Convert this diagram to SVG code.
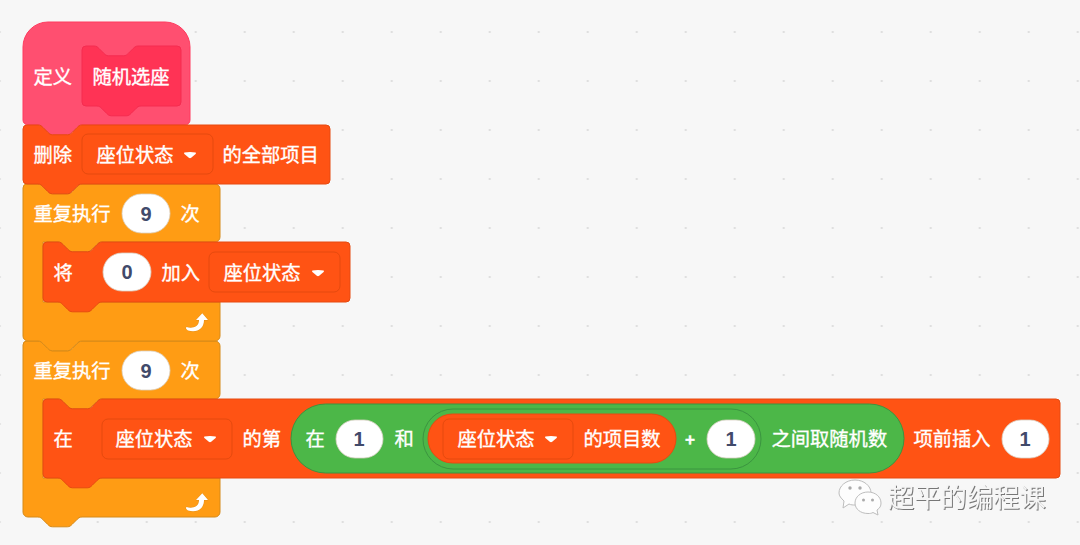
<svg xmlns="http://www.w3.org/2000/svg" width="1080" height="545" viewBox="0 0 1080 545">
<defs>
<style>
text{font-family:"Noto Sans CJK SC","Noto Sans",sans-serif;font-size:19.3px;font-weight:400;fill:#fff;stroke:#fff;stroke-width:.35}
.num{font-family:"Liberation Sans",Arial,sans-serif;font-size:20px;font-weight:700;fill:#414a6a;stroke:none;text-anchor:middle}
.hat{fill:#ff4f70;stroke:#ff3a5e;stroke-width:1}
.proc{fill:#ff3355;stroke:#f52c50;stroke-width:1}
.list{fill:#ff5314;stroke:#e64a10;stroke-width:1}
.ctl{fill:#ff9c14;stroke:#d68a18;stroke-width:1}
.op{fill:#4cb748;stroke:#3b9440;stroke-width:1}
.dd{fill:#ff5314;stroke:#e54a0f;stroke-width:1}
.inp{fill:#fff;stroke:#d9d0c4;stroke-width:.8}
.tri{fill:#fff}
.wm{font-size:26.3px;font-weight:400;fill:#f5f5f5;stroke:none;filter:drop-shadow(1px 1px .7px #777)}
.bub{fill:#fdfdfd;stroke:#bdbdbd;stroke-width:1}
.eye{fill:#aaa}
.loop{fill:#fff;stroke:#c9801a;stroke-width:.5;paint-order:stroke}
</style>
<pattern id="dots" width="49" height="49" patternUnits="userSpaceOnUse" x="-0.3" y="-17">
<rect width="49" height="49" fill="#f7f7f7"/>
<circle cx="0" cy="0" r="1.1" fill="#dadada"/><circle cx="49" cy="0" r="1.1" fill="#dadada"/><circle cx="0" cy="49" r="1.1" fill="#dadada"/><circle cx="49" cy="49" r="1.1" fill="#dadada"/>
</pattern>
<path id="tridown" d="M-5.6 -2.6 Q0 -3.6 5.6 -2.6 Q6.4 -2 5.6 -1 L1.2 2.8 Q0 3.6 -1.2 2.8 L-5.6 -1 Q-6.4 -2 -5.6 -2.6 Z"/>
<path id="looparrow" d="M-10.500 7 C-6 8.500 2 8 2 0 L-1 0 L5.300 -6.700 L11 0 L7 0 C7 9 0 13 -9 10.500 Q-12 8.500 -10.500 7 Z"/>
</defs>
<rect id="background" width="1080" height="545" fill="url(#dots)"/>
<g id="connectors"></g>

<g id="node-repeat-2">
<path class="ctl" d="M27 341 H38 c2.5 0 3.7 1.2 4.9 2.4 l4.9 4.9 c1.2 1.2 2.5 2.5 4.9 2.5 h14.7 c2.5 0 3.7 -1.2 4.9 -2.4 l4.9 -4.9 c1.2 -1.2 2.4 -2.5 4.9 -2.5 H215 a5 5 0 0 1 5 5 V394 a5 5 0 0 1 -5 5 H102 c-2.5 0 -3.7 1.2 -4.9 2.4 l-4.9 4.9 c-1.2 1.2 -2.5 2.5 -4.9 2.5 h-14.7 c-2.5 0 -3.7 -1.2 -4.9 -2.4 l-4.9 -4.9 c-1.2 -1.2 -2.4 -2.5 -4.9 -2.5 H43 V478 H220 V512 a5 5 0 0 1 -5 5 H82 c-2.5 0 -3.7 1.2 -4.9 2.4 l-4.9 4.9 c-1.2 1.2 -2.5 2.5 -4.9 2.5 h-14.7 c-2.5 0 -3.7 -1.2 -4.9 -2.4 l-4.9 -4.9 c-1.2 -1.2 -2.4 -2.5 -4.9 -2.5 H28 a5 5 0 0 1 -5 -5 V345 a4 4 0 0 1 4 -4 Z"/>
<text x="33.500" y="378">重复执行</text>
<rect class="inp" x="122" y="351" width="48" height="39" rx="19.5"/>
<text class="num" x="146" y="378">9</text>
<text x="180.500" y="378">次</text>
<use href="#looparrow" class="loop" x="197" y="500"/>
</g>

<g id="node-repeat-1">
<path class="ctl" d="M27 184 H38 c2.5 0 3.7 1.2 4.9 2.4 l4.9 4.9 c1.2 1.2 2.5 2.5 4.9 2.5 h14.7 c2.5 0 3.7 -1.2 4.9 -2.4 l4.9 -4.9 c1.2 -1.2 2.4 -2.5 4.9 -2.5 H215 a5 5 0 0 1 5 5 V237 a5 5 0 0 1 -5 5 H102 c-2.5 0 -3.7 1.2 -4.9 2.4 l-4.9 4.9 c-1.2 1.2 -2.5 2.5 -4.9 2.5 h-14.7 c-2.5 0 -3.7 -1.2 -4.9 -2.4 l-4.9 -4.9 c-1.2 -1.2 -2.4 -2.5 -4.9 -2.5 H43 V302 H220 V336 a5 5 0 0 1 -5 5 H82 c-2.5 0 -3.7 1.2 -4.9 2.4 l-4.9 4.9 c-1.2 1.2 -2.5 2.5 -4.9 2.5 h-14.7 c-2.5 0 -3.7 -1.2 -4.9 -2.4 l-4.9 -4.9 c-1.2 -1.2 -2.4 -2.5 -4.9 -2.5 H28 a5 5 0 0 1 -5 -5 V188 a4 4 0 0 1 4 -4 Z"/>
<text x="33.500" y="221">重复执行</text>
<rect class="inp" x="122" y="194" width="48" height="39" rx="19.5"/>
<text class="num" x="146" y="221">9</text>
<text x="180.500" y="221">次</text>
<use href="#looparrow" class="loop" x="197" y="320"/>
</g>

<g id="node-define">
<path class="hat" d="M23 47 a25 25 0 0 1 25 -25 H165 a25 25 0 0 1 25 25 V120 a5 5 0 0 1 -5 5 H82 c-2.5 0 -3.7 1.2 -4.9 2.4 l-4.9 4.9 c-1.2 1.2 -2.5 2.5 -4.9 2.5 h-14.7 c-2.5 0 -3.7 -1.2 -4.9 -2.4 l-4.9 -4.9 c-1.2 -1.2 -2.4 -2.5 -4.9 -2.5 H28 a5 5 0 0 1 -5 -5 Z"/>
<text x="33.500" y="84">定义</text>
<path class="proc" d="M86 46 H94 c2.5 0 3.7 1.2 4.9 2.4 l4.9 4.9 c1.2 1.2 2.5 2.5 4.9 2.5 h14.7 c2.5 0 3.7 -1.2 4.9 -2.4 l4.9 -4.9 c1.2 -1.2 2.4 -2.5 4.9 -2.5 H177 a4 4 0 0 1 4 4 V102 a4 4 0 0 1 -4 4 H141 c-2.5 0 -3.7 1.2 -4.9 2.4 l-4.9 4.9 c-1.2 1.2 -2.5 2.5 -4.9 2.5 h-14.7 c-2.5 0 -3.7 -1.2 -4.9 -2.4 l-4.9 -4.9 c-1.2 -1.2 -2.4 -2.5 -4.9 -2.5 H86 a4 4 0 0 1 -4 -4 V50 a4 4 0 0 1 4 -4 Z"/>
<text x="92.500" y="84">随机选座</text>
</g>

<g id="node-delete-all">
<path class="list" d="M27 125 H38 c2.5 0 3.7 1.2 4.9 2.4 l4.9 4.9 c1.2 1.2 2.5 2.5 4.9 2.5 h14.7 c2.5 0 3.7 -1.2 4.9 -2.4 l4.9 -4.900 c1.2 -1.2 2.4 -2.5 4.9 -2.5 H326 a4 4 0 0 1 4 4 V180 a4 4 0 0 1 -4 4 H82 c-2.5 0 -3.7 1.2 -4.9 2.4 l-4.9 4.9 c-1.2 1.2 -2.5 2.5 -4.9 2.5 h-14.7 c-2.5 0 -3.7 -1.2 -4.9 -2.4 l-4.9 -4.9 c-1.2 -1.2 -2.4 -2.5 -4.9 -2.5 H27 a4 4 0 0 1 -4 -4 V129 a4 4 0 0 1 4 -4 Z"/>
<text x="33.500" y="162">删除</text>
<rect class="dd" x="82" y="134" width="131" height="40" rx="6"/>
<text x="96.500" y="162">座位状态</text>
<use href="#tridown" class="tri" x="190" y="155"/>
<text x="222.500" y="162">的全部项目</text>
</g>

<g id="node-add-to-list">
<path class="list" d="M47 242 H58 c2.5 0 3.7 1.2 4.9 2.4 l4.9 4.9 c1.2 1.2 2.5 2.5 4.9 2.5 h14.7 c2.5 0 3.7 -1.2 4.9 -2.4 l4.9 -4.9 c1.2 -1.2 2.4 -2.5 4.9 -2.5 H346 a4 4 0 0 1 4 4 V298 a4 4 0 0 1 -4 4 H102 c-2.5 0 -3.7 1.2 -4.9 2.4 l-4.9 4.9 c-1.2 1.2 -2.5 2.5 -4.9 2.5 h-14.7 c-2.5 0 -3.7 -1.2 -4.9 -2.4 l-4.9 -4.9 c-1.2 -1.2 -2.4 -2.5 -4.9 -2.5 H47 a4 4 0 0 1 -4 -4 V246 a4 4 0 0 1 4 -4 Z"/>
<text x="53.500" y="280">将</text>
<rect class="inp" x="103" y="253" width="48" height="38" rx="19"/>
<text class="num" x="127" y="279">0</text>
<text x="161.500" y="280">加入</text>
<rect class="dd" x="209" y="252" width="131" height="40" rx="6"/>
<text x="223.500" y="280">座位状态</text>
<use href="#tridown" class="tri" x="318" y="273"/>
</g>

<g id="node-insert-at">
<path class="list" d="M47 399 H58 c2.5 0 3.7 1.2 4.9 2.4 l4.9 4.9 c1.2 1.2 2.5 2.5 4.9 2.5 h14.7 c2.5 0 3.7 -1.2 4.9 -2.4 l4.9 -4.9 c1.2 -1.2 2.4 -2.5 4.9 -2.5 H1056 a4 4 0 0 1 4 4 V474 a4 4 0 0 1 -4 4 H102 c-2.5 0 -3.7 1.2 -4.9 2.4 l-4.9 4.9 c-1.2 1.2 -2.5 2.5 -4.9 2.5 h-14.7 c-2.5 0 -3.7 -1.2 -4.9 -2.4 l-4.9 -4.9 c-1.2 -1.2 -2.4 -2.5 -4.9 -2.5 H47 a4 4 0 0 1 -4 -4 V403 a4 4 0 0 1 4 -4 Z"/>
<text x="53.500" y="446">在</text>
<rect class="dd" x="102" y="419" width="130" height="40" rx="6"/>
<text x="115.500" y="446">座位状态</text>
<use href="#tridown" class="tri" x="210" y="439"/>
<text x="242.500" y="446">的第</text>
<text x="913.500" y="446">项前插入</text>
<rect class="inp" x="1002" y="420" width="47" height="38" rx="19"/>
<text class="num" x="1025" y="446">1</text>
</g>

<g id="node-random">
<rect class="op" x="291" y="404" width="613" height="69" rx="34.500"/>
<text x="305.500" y="446">在</text>
<rect class="inp" x="336" y="420" width="47" height="38" rx="19"/>
<text class="num" x="359" y="446">1</text>
<text x="394.500" y="446">和</text>
<rect class="op" x="423" y="409" width="338" height="60" rx="30"/>
<text x="685" y="446" style="font-size:17px;font-weight:700">+</text>
<rect class="inp" x="707" y="420" width="48" height="38" rx="19"/>
<text class="num" x="731" y="446">1</text>
<text x="771.500" y="446">之间取随机数</text>
</g>

<g id="node-list-length">
<rect class="list" x="428" y="414" width="248" height="49" rx="24.500"/>
<rect class="dd" x="443" y="419" width="130" height="40" rx="6"/>
<text x="457.500" y="446">座位状态</text>
<use href="#tridown" class="tri" x="551" y="439"/>
<text x="583.500" y="446">的项目数</text>
</g>

<g id="watermark">
<path class="bub" d="M855 480 C864 480 871 486 871 493 C871 500 864 505 855 505 C853 505 851 505 849 504 L843 508 L844 501 C841 498 839 496 839 493 C839 486 846 480 855 480 Z"/>
<circle class="eye" cx="850" cy="488" r="1.700"/><circle class="eye" cx="860" cy="488" r="1.700"/>
<path class="bub" d="M868 492 C875.500 492 881 497 881 503 C881 506 880 508 877 510 L878 515 L873 512.500 C871 513.500 870 513.500 868 513.500 C860.500 513.500 855 509 855 503 C855 497 860.500 492 868 492 Z"/>
<circle class="eye" cx="863.500" cy="500" r="1.500"/><circle class="eye" cx="872.500" cy="500" r="1.500"/>
<text class="wm" x="888" y="507">超平的编程课</text>
</g>
</svg>
